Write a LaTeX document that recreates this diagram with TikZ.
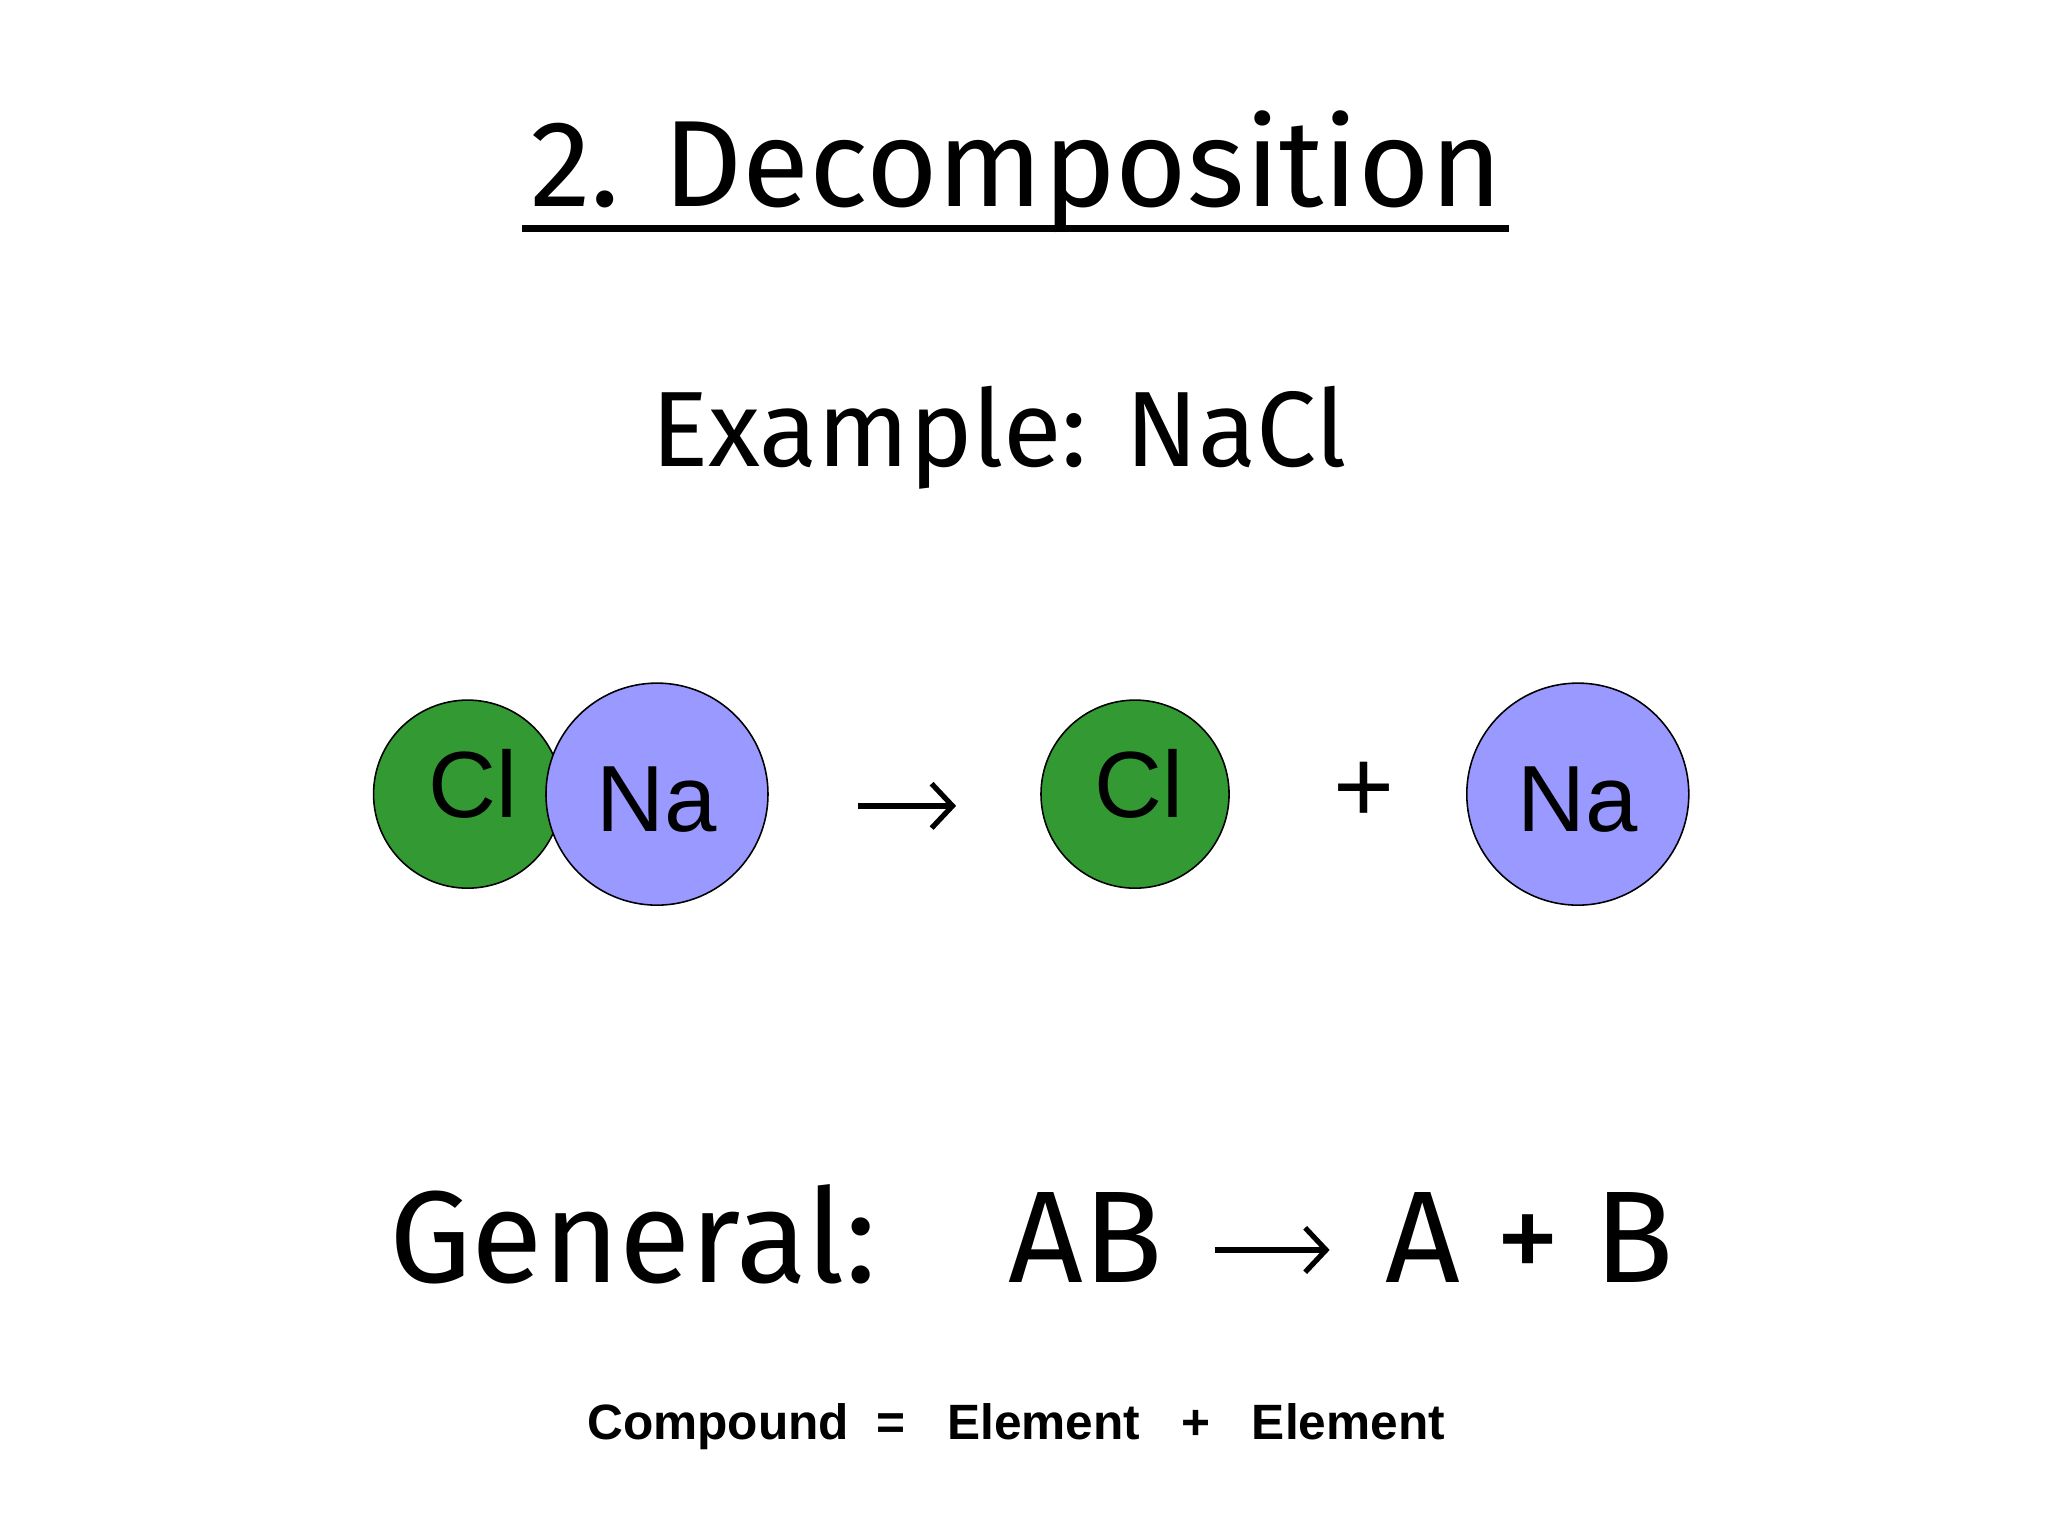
\documentclass[tikz,border=0pt]{standalone}
\usepackage{fontspec}
\usetikzlibrary{arrows.meta}
\setmainfont{Fira Sans}
\newfontfamily\arial{Liberation Sans}
\begin{document}
\begin{tikzpicture}[x=1pt,y=-1pt]
\useasboundingbox (0,0) rectangle (1568,1176);
\definecolor{clg}{RGB}{51,153,51}
\tikzset{cl/.style={circle,draw=black,line width=1.2pt,fill=clg,minimum size=144pt,inner sep=0pt},
 na/.style={circle,draw=black,line width=1.2pt,fill={rgb,255:red,153;green,153;blue,255},minimum size=170pt,inner sep=0pt},
 atom/.style={font=\arial\fontsize{72}{72}\selectfont},
 hand/.style={font=\fontsize{#1}{#1}\selectfont,inner sep=0pt},
 rarr/.style={line width=4pt,-{Straight Barb[length=16pt,width=34pt,line width=4pt]}}}
\node[hand=94,anchor=base] (title) at (778,158) {2. Decomposition};
\draw[line width=6pt] (400,175) -- (1155,175);
\node[hand=82,anchor=base] (ex) at (765,357) {Example: NaCl};
\node[cl] (cl1) at (358,608) {};
\node[na] (na1) at (503,608) {};
\node[atom] at (362,600) {Cl};
\node[atom] at (503,612) {Na};
\coordinate (a1) at (657,617); \coordinate (a2) at (732,617);
\draw[rarr] (a1) -- (a2);
\node[cl] (cl2) at (869,608) {};
\node[atom] at (872,600) {Cl};
\node[font=\arial\fontsize{80}{80}\selectfont] (plus) at (1044,607) {+};
\node[na] (na2) at (1208,608) {};
\node[atom] at (1208,612) {Na};
\node[hand=100,anchor=base west] (gen) at (298,982) {General:};
\node[hand=100,anchor=base west] (ab) at (772,982) {AB};
\coordinate (b1) at (930,957); \coordinate (b2) at (1018,957);
\draw[rarr] (b1) -- (b2);
\node[hand=100,anchor=base east] (apb) at (1282,982) {A + B};
\node[font=\arial\bfseries\fontsize{38}{38}\selectfont,anchor=base] (bot) at (778,1102) {Compound\ \ =\ \ \ Element\ \ \ +\ \ \ Element};
\end{tikzpicture}
\end{document}
